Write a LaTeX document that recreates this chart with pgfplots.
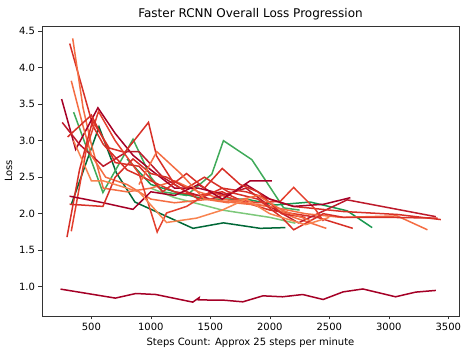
\documentclass[border=0pt]{standalone}
\usepackage{fontspec}
\setmainfont{DejaVu Sans}
\usepackage{pgfplots}
\pgfplotsset{compat=1.18}
\definecolor{cA}{HTML}{A50026}
\definecolor{cB}{HTML}{BD1A2B}
\definecolor{cC}{HTML}{D73027}
\definecolor{cD}{HTML}{E4402E}
\definecolor{cE}{HTML}{F46D43}
\definecolor{cF}{HTML}{F8834F}
\definecolor{gA}{HTML}{006837}
\definecolor{gB}{HTML}{1A9850}
\definecolor{gC}{HTML}{3FAA59}
\definecolor{gD}{HTML}{7CC87A}
\begin{document}
\begin{tikzpicture}[x=1pt,y=1pt]
\path[use as bounding box] (0,0) rectangle (474,355);
\begin{axis}[at={(42pt,39pt)}, anchor=south west, scale only axis,
  width=417pt, height=290pt,
  xmin=85, xmax=3590, ymin=0.60, ymax=4.57,
  xtick={500,1000,1500,2000,2500,3000,3500},
  ytick={1,1.5,2,2.5,3,3.5,4,4.5},
  scaled ticks=false,
  xticklabel style={/pgf/number format/1000 sep={}},
  yticklabel style={/pgf/number format/.cd, fixed, fixed zerofill, precision=1},
  /pgf/number format/assume math mode=true,
  tick align=outside, tick pos=left, major tick length=3.5pt,
  tick style={black!80, line width=0.6pt},
  axis line style={black!80, line width=0.8pt},
  ticklabel style={font=\fontsize{10}{12}\selectfont},
  title={Faster RCNN Overall Loss Progression},
  title style={font=\fontsize{12}{14}\selectfont, at={(0.5,1)}, anchor=south, yshift=-4pt},
  xlabel={Steps Count: Approx 25 steps per minute},
  ylabel={Loss},
  label style={font=\fontsize{10}{12}\selectfont},
  every axis plot/.append style={line width=1.5pt, mark=none},
]
% bottom dark red
\addplot[cA] coordinates {(241,0.968)(702,0.845)(874,0.908)(1042,0.894)(1352,0.79)(1405,0.85)(1400,0.82)(1610,0.817)(1773,0.794)(1942,0.876)(2107,0.863)(2276,0.894)(2448,0.826)(2616,0.93)(2782,0.97)(3057,0.863)(3226,0.927)(3395,0.95)};
% greens
\addplot[gA] coordinates {(330,2.12)(564,3.19)(710,2.56)(866,2.16)(1354,1.80)(1610,1.875)(1919,1.80)(2130,1.81)};
\addplot[gC] coordinates {(351,3.39)(450,2.95)(597,2.29)(850,3.02)(1000,2.5)(1100,2.3)(1300,2.25)(1512,2.54)(1610,3.0)(1849,2.74)(2116,2.08)(2250,2.05)};
\addplot[gD] coordinates {(1000,2.35)(1200,2.22)(1600,2.05)(2000,1.95)(2215,1.87)};
\addplot[gB] coordinates {(800,2.75)(1000,2.4)(1200,2.3)(1450,2.2)(1800,2.2)(2050,2.12)(2340,2.16)(2650,2.04)(2860,1.81)};
% reds
\addplot[cC] coordinates {(318,4.33)(514,3.2)(600,2.95)(800,2.6)(1000,2.45)(1200,2.3)(1400,2.25)(1600,2.3)(1800,2.15)(2000,2.05)(2200,2.0)(2400,1.95)(2697,1.80)};
\addplot[cE] coordinates {(343,4.40)(430,3.45)(500,2.95)(600,2.35)(800,2.3)(1000,2.35)(1200,2.45)(1400,2.3)(1600,2.2)(1800,2.15)(2000,2.1)(2200,1.95)(2475,1.80)};
\addplot[cA] coordinates {(250,3.57)(368,2.88)(555,3.45)(700,3.1)(850,2.8)(1000,2.6)(1200,2.35)(1400,2.35)(1650,2.25)(1834,2.45)(2018,2.45)};
\addplot[cB] coordinates {(255,3.25)(400,2.95)(600,2.65)(800,2.85)(900,2.85)(1100,2.5)(1300,2.3)(1500,2.2)(1800,2.35)(2000,2.1)(2240,1.875)(2650,2.19)(3395,1.96)};
\addplot[cE] coordinates {(331,3.82)(430,3.2)(500,2.8)(620,2.5)(800,2.4)(1000,2.2)(1200,2.15)(1500,2.2)(1700,2.15)(2000,2.1)(2300,2.0)(2600,1.95)(3070,1.97)(3325,1.78)};
\addplot[cC] coordinates {(295,1.68)(400,2.6)(510,3.27)(650,2.9)(781,2.84)(980,3.25)(1048,2.79)(1200,2.4)(1400,2.2)(1600,2.35)(1800,2.3)(2000,2.2)(2200,2.1)(2620,2.03)(3071,1.99)(3437,1.92)};
\addplot[cD] coordinates {(331,1.76)(460,2.9)(560,3.4)(700,3.0)(900,2.55)(1053,1.75)(1132,2.01)(1300,2.1)(1500,2.3)(1700,2.2)(1900,2.15)(2088,2.17)(2200,2.36)(2383,2.06)(2450,1.9)};
\addplot[cA] coordinates {(317,2.24)(600,2.15)(850,2.06)(1000,2.3)(1200,2.25)(1400,2.4)(1600,2.2)(1800,2.4)(2000,2.2)(2200,2.1)(2453,2.13)(2677,2.22)};
\addplot[cC] coordinates {(317,2.13)(597,2.1)(700,2.5)(850,2.75)(1000,2.55)(1132,2.5)(1300,2.35)(1450,2.5)(1650,2.3)(1900,2.2)(2100,1.95)(2200,1.78)(2450,2.0)(2620,1.95)(3000,1.95)(3410,1.94)};
\addplot[cF] coordinates {(350,3.0)(500,2.45)(600,2.45)(900,2.3)(1132,1.88)(1385,1.94)(1600,2.05)(1800,2.2)(2000,2.0)(2300,1.85)(2500,1.95)};
\addplot[cC] coordinates {(300,3.05)(500,3.35)(700,2.7)(900,2.65)(1100,2.3)(1300,2.55)(1450,2.35)(1600,2.62)(1750,2.4)(1900,2.3)(2100,2.0)(2300,1.95)};
\addplot[cE] coordinates {(900,2.4)(1050,2.85)(1250,2.55)(1450,2.2)(1650,2.15)(1900,2.25)(2100,2.05)(2350,1.9)};
\end{axis}
\end{tikzpicture}
\end{document}
